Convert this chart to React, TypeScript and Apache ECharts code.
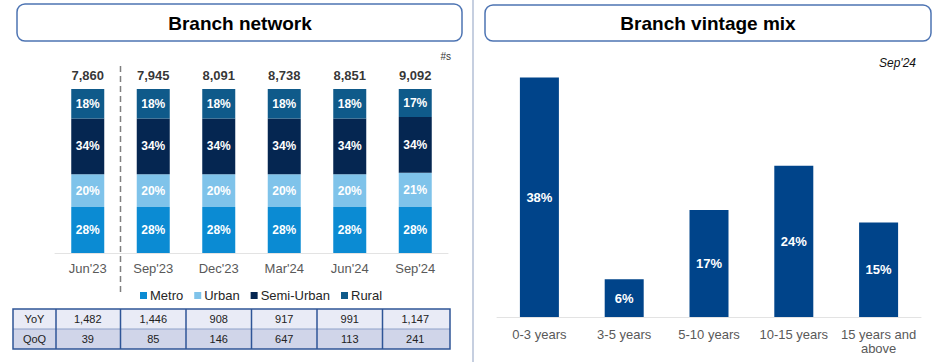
import React, { useEffect, useRef } from "react";
import * as echarts from "echarts";

const categories = ["Jun'23", "Sep'23", "Dec'23", "Mar'24", "Jun'24", "Sep'24"];
const totals = [7860, 7945, 8091, 8738, 8851, 9092];
const metro = [28, 28, 28, 28, 28, 28];
const urban = [20, 20, 20, 20, 20, 21];
const semiUrban = [34, 34, 34, 34, 34, 34];
const rural = [18, 18, 18, 18, 18, 17];
const yoy = [1482, 1446, 908, 917, 991, 1147];
const qoq = [39, 85, 146, 647, 113, 241];

const vintageCats = ["0-3 years", "3-5 years", "5-10 years", "10-15 years", "15 years and\nabove"];
const vintageVals = [38, 6, 17, 24, 15];

const FONT = "'Liberation Sans', Arial, sans-serif";
const fmt = (n: number) => n.toLocaleString("en-US");

export default function App() {
  const ref = useRef<HTMLDivElement>(null);
  useEffect(() => {
    if (!ref.current) return;
    document.body.style.margin = "0";
    const chart = echarts.init(ref.current, undefined, { renderer: "svg" });

    const g1 = { left: 55, top: 89, width: 393, height: 164 };
    const g2 = { left: 497, top: 65, width: 424, height: 252 };
    const band = g1.width / categories.length;

    const tableTop = 309;
    const rowH = 20;
    const tableLeft = 13;
    const tableRight = g1.left + g1.width + 2;
    const rows = [
      { name: "YoY", vals: yoy, fill: "#e9ebf6" },
      { name: "QoQ", vals: qoq, fill: "#d0d5e9" },
    ];
    const tableEls: any[] = [];
    rows.forEach((r, ri) => {
      const y = tableTop + ri * rowH;
      tableEls.push({
        type: "rect",
        shape: { x: tableLeft, y, width: tableRight - tableLeft, height: rowH },
        style: { fill: r.fill },
      });
      tableEls.push({
        type: "text",
        style: {
          text: r.name, x: (tableLeft + g1.left + 1) / 2, y: y + rowH / 2,
          align: "center", verticalAlign: "middle", fontSize: 11, fontFamily: FONT, fill: "#222",
        },
      });
      r.vals.forEach((v, i) => {
        tableEls.push({
          type: "text",
          style: {
            text: fmt(v), x: g1.left + (i + 0.5) * band, y: y + rowH / 2,
            align: "center", verticalAlign: "middle", fontSize: 11, fontFamily: FONT, fill: "#222",
          },
        });
      });
    });
    tableEls.push({
      type: "line",
      shape: { x1: tableLeft, y1: tableTop + rowH, x2: tableRight, y2: tableTop + rowH },
      style: { stroke: "#8da0c9", lineWidth: 1 },
    });
    for (let i = 0; i < categories.length; i++) {
      const x = i === 0 ? g1.left + 1 : g1.left + i * band;
      tableEls.push({
        type: "line",
        shape: { x1: x, y1: tableTop, x2: x, y2: tableTop + 2 * rowH },
        style: { stroke: "#2f5597", lineWidth: 1.5 },
      });
    }
    tableEls.push({
      type: "rect",
      shape: { x: tableLeft, y: tableTop, width: tableRight - tableLeft, height: 2 * rowH },
      style: { fill: "none", stroke: "#2f5597", lineWidth: 1.5 },
    });

    const segLabel = {
      show: true, position: "inside", color: "#fff", fontWeight: "bold",
      fontSize: 12, fontFamily: FONT, formatter: "{c}%",
    };
    const stackSeries = [
      { name: "Metro", data: metro, color: "#0b8bd3" },
      { name: "Urban", data: urban, color: "#7fc3ea" },
      { name: "Semi-Urban", data: semiUrban, color: "#052651" },
      { name: "Rural", data: rural, color: "#0f5a8a" },
    ].map((s) => ({
      name: s.name, type: "bar", stack: "a", xAxisIndex: 0, yAxisIndex: 0,
      data: s.data, barWidth: 33, itemStyle: { color: s.color }, label: segLabel,
    }));

    const stackTop = categories.map((_, i) => metro[i] + urban[i] + semiUrban[i] + rural[i]);

    chart.setOption({
      animation: false,
      textStyle: { fontFamily: FONT },
      grid: [
        { ...g1, containLabel: false },
        { ...g2, containLabel: false },
      ],
      legend: {
        data: ["Metro", "Urban", "Semi-Urban", "Rural"],
        left: 135, top: 284, icon: "rect", itemWidth: 7, itemHeight: 7, itemGap: 11,
        textStyle: { fontSize: 13, color: "#262626", fontFamily: FONT, padding: [0, 0, 0, -2] },
        selectedMode: false,
      },
      xAxis: [
        {
          type: "category", gridIndex: 0, data: categories,
          axisLine: { lineStyle: { color: "#e3e3e3" } }, axisTick: { show: false },
          axisLabel: { color: "#595959", fontSize: 13, margin: 9, interval: 0, fontFamily: FONT },
        },
        {
          type: "category", gridIndex: 1, data: vintageCats,
          axisLine: { lineStyle: { color: "#e3e3e3" } }, axisTick: { show: false },
          axisLabel: { color: "#595959", fontSize: 13, margin: 10, lineHeight: 14, interval: 0, fontFamily: FONT },
        },
      ],
      yAxis: [
        { type: "value", gridIndex: 0, min: 0, max: 100, show: false },
        { type: "value", gridIndex: 1, min: 0, max: 40, show: false },
      ],
      series: [
        ...stackSeries,
        {
          name: "Total", type: "scatter", xAxisIndex: 0, yAxisIndex: 0,
          data: stackTop, symbolSize: 1, itemStyle: { color: "rgba(0,0,0,0)" },
          label: {
            show: true, position: "top", distance: 7, color: "#000", fontWeight: "bold",
            fontSize: 13, fontFamily: FONT, formatter: (p: any) => fmt(totals[p.dataIndex]),
          },
        },
        {
          name: "Vintage", type: "bar", xAxisIndex: 1, yAxisIndex: 1,
          data: vintageVals, barWidth: 39, itemStyle: { color: "#00448a" },
          label: {
            show: true, position: "inside", color: "#fff", fontWeight: "bold",
            fontSize: 13, fontFamily: FONT, formatter: "{c}%",
          },
        },
      ],
      graphic: [
        {
          type: "line", shape: { x1: 473, y1: 0, x2: 473, y2: 362 },
          style: { stroke: "#c6cfe0", lineWidth: 2 },
        },
        {
          type: "rect", shape: { x: 17, y: 4, width: 445, height: 37, r: 8 },
          style: { fill: "#fff", stroke: "#4d74b3", lineWidth: 1.5 },
        },
        {
          type: "text",
          style: {
            text: "Branch network", x: 240, y: 23, align: "center", verticalAlign: "middle",
            fontSize: 19, fontWeight: "bold", fontFamily: FONT, fill: "#000",
          },
        },
        {
          type: "rect", shape: { x: 485, y: 5, width: 446, height: 36, r: 8 },
          style: { fill: "#fff", stroke: "#4d74b3", lineWidth: 1.5 },
        },
        {
          type: "text",
          style: {
            text: "Branch vintage mix", x: 708, y: 23, align: "center", verticalAlign: "middle",
            fontSize: 19, fontWeight: "bold", fontFamily: FONT, fill: "#000",
          },
        },
        {
          type: "text",
          style: {
            text: "#s", x: 451, y: 56, align: "right", verticalAlign: "middle",
            fontSize: 10, fontFamily: FONT, fill: "#333",
          },
        },
        {
          type: "text",
          style: {
            text: "Sep'24", x: 916, y: 63, align: "right", verticalAlign: "middle",
            fontSize: 12, fontStyle: "italic", fontFamily: FONT, fill: "#111",
          },
        },
        {
          type: "line", shape: { x1: g1.left + band, y1: 66, x2: g1.left + band, y2: 296 },
          style: { stroke: "#7f7f7f", lineWidth: 1.5, lineDash: [6, 4] },
        },
        ...tableEls,
      ],
    });
    return () => chart.dispose();
  }, []);
  return <div ref={ref} style={{ position: "absolute", left: 0, top: 0, width: 940, height: 362 }} />;
}
